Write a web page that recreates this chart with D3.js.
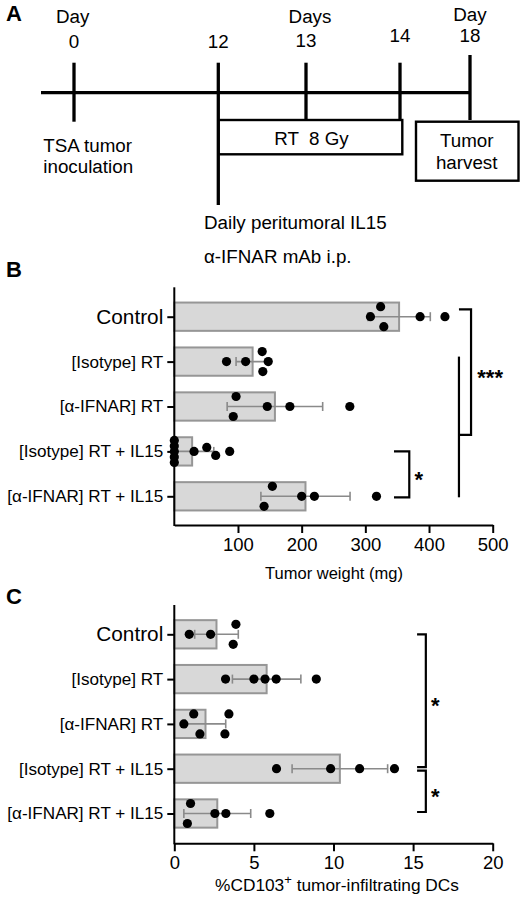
<!DOCTYPE html>
<html>
<head>
<meta charset="utf-8">
<script src="https://cdn.jsdelivr.net/npm/d3@7/dist/d3.min.js"></script>
<style>
body { margin: 0; background: #fff; }
text { font-family: Arial, "Liberation Sans", sans-serif; fill: #000; }
</style>
</head>
<body>
<svg id="fig" width="520" height="897"></svg>
<script>
// ---- panel A: treatment schedule ----
var days = [0, 12, 13, 14, 18];
var dayHeads = ["Day", "", "Days", "", "Day"];

// ---- panels B and C ----
var groups = ["Control", "[Isotype] RT", "[α-IFNAR] RT", "[Isotype] RT + IL15", "[α-IFNAR] RT + IL15"];

// Tumor weight (mg)
var weightMean = [353, 123, 158, 28, 206];
var weightSD = [49, 26, 75, 34, 70];
var weightPoints = [
    [308, 324, 329, 386, 425],
    [82, 112, 138, 139, 147.5],
    [92.6, 97, 146, 181.5, 275.6],
    [0, 0, 0, 0, 0, 31, 51, 65, 87],
    [141, 154, 200, 220, 317.5]
];
var weightTicks = [100, 200, 300, 400, 500];

// %CD103+ tumor-infiltrating DCs
var dcMean = [2.65, 5.8, 1.96, 10.4, 2.7];
var dcSD = [1.37, 2.15, 1.27, 3.0, 2.1];
var dcPoints = [
    [0.94, 2.28, 3.7, 3.87],
    [3.22, 5.0, 5.7, 6.4, 8.92],
    [0.6, 1.22, 1.61, 3.18, 3.43],
    [6.42, 9.82, 11.64, 13.83],
    [0.82, 1.02, 2.55, 3.24, 6.0]
];
var dcTicks = [0, 5, 10, 15, 20];

var svg = d3.select("#fig");
var fsA = "18.8px";

function panelLetter(t, y) {
    svg.append("text").attr("x", 6).attr("y", y)
        .style("font-size", "22px").style("font-weight", "bold").text(t);
}

// ****************** Panel A ***************************
function drawTimeline() {
    var g = svg.append("g");
    var tx = d3.scaleLinear().domain(days).range([74, 218.3, 306, 400, 470]);

    panelLetter("A", 21);

    // main line
    g.append("line").attr("x1", 41).attr("x2", tx(18)).attr("y1", 92.7).attr("y2", 92.7)
        .attr("stroke", "#000").attr("stroke-width", 3.3);

    // RT box
    g.append("rect").attr("x", tx(12)).attr("y", 120)
        .attr("width", 402.3 - tx(12)).attr("height", 34.3)
        .attr("fill", "none").attr("stroke", "#000").attr("stroke-width", 2.4);
    g.append("text").attr("x", 311.5).attr("y", 145).attr("text-anchor", "middle")
        .style("font-size", fsA).attr("xml:space", "preserve").text("RT  8 Gy");

    // harvest box
    g.append("rect").attr("x", 416).attr("y", 121.7).attr("width", 102.5).attr("height", 59)
        .attr("fill", "none").attr("stroke", "#000").attr("stroke-width", 2.4);
    g.append("text").attr("x", 466.7).attr("y", 146.7).attr("text-anchor", "middle")
        .style("font-size", fsA).text("Tumor");
    g.append("text").attr("x", 466.7).attr("y", 168.5).attr("text-anchor", "middle")
        .style("font-size", fsA).text("harvest");

    // day ticks
    g.selectAll("line.day").data(days).enter().append("line")
        .attr("class", "day")
        .attr("x1", function(d) { return tx(d); })
        .attr("x2", function(d) { return tx(d); })
        .attr("y1", function(d) { return d === 18 ? 55 : 62.7; })
        .attr("y2", function(d) { return d === 12 ? 205 : (d === 0 ? 121.7 : 120); })
        .attr("stroke", "#000").attr("stroke-width", 3.3);

    // day numbers and headings
    g.selectAll("text.num").data(days).enter().append("text")
        .attr("class", "num")
        .attr("x", function(d) { return tx(d); })
        .attr("y", function(d) { return d >= 14 ? 42 : (d === 13 ? 46.5 : 47.5); })
        .attr("text-anchor", "middle").style("font-size", fsA)
        .text(function(d) { return d; });
    g.selectAll("text.head").data(days).enter().append("text")
        .attr("class", "head")
        .attr("x", function(d, i) { return tx(d) + (i === 2 ? 4 : (i === 0 ? -1.3 : 0)); })
        .attr("y", function(d) { return d === 18 ? 21 : 22.5; })
        .attr("text-anchor", "middle").style("font-size", fsA)
        .text(function(d, i) { return dayHeads[i]; });

    g.append("text").attr("x", 43.3).attr("y", 151.7).style("font-size", fsA).text("TSA tumor");
    g.append("text").attr("x", 43.3).attr("y", 173.3).style("font-size", fsA).text("inoculation");
    g.append("text").attr("x", 204).attr("y", 229).style("font-size", fsA).text("Daily peritumoral IL15");
    g.append("text").attr("x", 204).attr("y", 263.3).style("font-size", fsA).text("α-IFNAR mAb i.p.");
}

// rows for the scatter dots, GraphPad-like: close values get split up/down
function swarmRows(values, px, minGap) {
    var idx = values.map(function(v, i) { return i; })
        .sort(function(a, b) { return values[a] - values[b]; });
    var rows = values.map(function() { return 0; });
    var clusters = [], cur = [idx[0]];
    for (var i = 1; i < idx.length; i++) {
        if (px(values[idx[i]]) - px(values[cur[cur.length - 1]]) < minGap) cur.push(idx[i]);
        else { clusters.push(cur); cur = [idx[i]]; }
    }
    clusters.push(cur);
    clusters.forEach(function(c) {
        if (c.length === 2) {
            // pairs that barely touch only need a small nudge
            var dx = px(values[c[1]]) - px(values[c[0]]);
            var r = dx > 8.5 ? 0.4 : 1;
            rows[c[0]] = dx > 8.5 ? -r : r; rows[c[1]] = dx > 8.5 ? r : -r;
        } else if (c.length === 3) {
            var g1 = px(values[c[1]]) - px(values[c[0]]);
            var g2 = px(values[c[2]]) - px(values[c[1]]);
            var mid = g1 >= g2 ? 0 : 2;
            var others = [0, 1, 2].filter(function(k) { return k !== mid; });
            rows[c[mid]] = 0; rows[c[others[0]]] = -1; rows[c[others[1]]] = 1;
        } else if (c.length > 3) {
            c.forEach(function(k, j) { rows[k] = 1.1 * (-1 + 2 * j / (c.length - 1)); });
        }
    });
    return rows;
}

// ****************** Panels B / C ***************************
function drawBars(o) {
    var g = svg.append("g");
    var x = d3.scaleLinear().domain(o.domain).range([174.3, 492.7]);
    var y = d3.scalePoint().domain(groups).range(o.yRange);
    var barH = 28.3, rowGap = 10;

    panelLetter(o.letter, o.letterY);

    // bars
    g.selectAll("rect.bar").data(groups).enter().append("rect")
        .attr("class", "bar")
        .attr("x", x(0))
        .attr("y", function(d) { return y(d) - barH / 2; })
        .attr("width", function(d, i) { return x(o.mean[i]) - x(0); })
        .attr("height", barH)
        .attr("fill", "#d8d8d8").attr("stroke", "#969696").attr("stroke-width", 2);

    // error bars (SD)
    groups.forEach(function(name, i) {
        var lo = o.mean[i] - o.sd[i], hi = o.mean[i] + o.sd[i];
        var cy = y(name);
        var eg = g.append("g").attr("stroke", "#8a8a8a").attr("stroke-width", 1.6);
        eg.append("line").attr("x1", x(Math.max(lo, 0))).attr("x2", x(hi))
            .attr("y1", cy).attr("y2", cy);
        eg.append("line").attr("x1", x(hi)).attr("x2", x(hi))
            .attr("y1", cy - 4.5).attr("y2", cy + 4.5);
        if (lo > 0) {
            eg.append("line").attr("x1", x(lo)).attr("x2", x(lo))
                .attr("y1", cy - 4.5).attr("y2", cy + 4.5);
        }
    });

    // axes
    var xAxis = g.append("g").attr("transform", "translate(0," + o.axisY + ")")
        .call(d3.axisBottom(x).tickValues(o.ticks).tickSize(8).tickPadding(5).tickSizeOuter(0));
    xAxis.selectAll("path, line").attr("stroke", "#000").attr("stroke-width", 2);
    xAxis.selectAll("text").style("font-size", "18.5px").attr("fill", "#000");

    g.append("line").attr("x1", x(0)).attr("x2", x(0))
        .attr("y1", o.axisTop).attr("y2", o.axisY + 1)
        .attr("stroke", "#000").attr("stroke-width", 2);
    var yAxis = g.append("g").attr("transform", "translate(" + x(0) + ",0)")
        .call(d3.axisLeft(y).tickSize(7).tickPadding(4));
    yAxis.select(".domain").remove();
    yAxis.selectAll("line").attr("stroke", "#000").attr("stroke-width", 2);
    yAxis.selectAll("text").attr("fill", "#000")
        .style("font-size", function(d) { return d === "Control" ? "20.8px" : "17.1px"; });

    // dots
    o.points.forEach(function(vals, i) {
        var rows = swarmRows(vals, x, 10.5);
        g.selectAll(null).data(vals).enter().append("circle")
            .attr("cx", function(d) { return x(d); })
            .attr("cy", function(d, j) { return y(groups[i]) + rows[j] * rowGap; })
            .attr("r", 4.6).attr("fill", "#000");
    });

    // axis title
    var t = g.append("text").attr("x", o.titleX).attr("y", o.titleY)
        .attr("text-anchor", "middle").style("font-size", o.titleSize);
    o.title(t);

    // significance brackets
    o.brackets.forEach(function(b) {
        g.append("path").attr("d", b.path(x, y)).attr("fill", "none")
            .attr("stroke", "#000").attr("stroke-width", 2.2);
        if (b.label) {
            g.append("text").attr("x", x(b.lx)).attr("y", b.ly(y) + 12.5)
                .attr("text-anchor", "middle").style("font-size", "22px")
                .style("font-weight", "bold").text(b.label);
        }
    });
}

drawTimeline();

drawBars({
    letter: "B", letterY: 277,
    domain: [0, 500], ticks: weightTicks,
    mean: weightMean, sd: weightSD, points: weightPoints,
    yRange: [316.7, 496.3], axisTop: 287.3, axisY: 525,
    titleX: 334, titleY: 579, titleSize: "16.5px",
    title: function(t) { t.text("Tumor weight (mg)"); },
    brackets: [
        { path: function(x, y) {
            return "M" + x(447) + "," + (y(groups[1]) - 5) + "V" + (y(groups[4]) + 1);
        } },
        { path: function(x, y) {
            var b = (y(groups[2]) + y(groups[3])) / 2 + 6;
            return "M" + x(447) + "," + (y(groups[0]) - 7.4) + "H" + x(466) + "V" + b + "H" + x(447);
          },
          label: "***", lx: 496,
          ly: function(y) { return ((y(groups[0]) - 7.4) + (y(groups[2]) + y(groups[3])) / 2 + 6) / 2; } },
        { path: function(x, y) {
            return "M" + x(345) + "," + y(groups[3]) + "H" + x(369) + "V" + (y(groups[4]) + 1) + "H" + x(345);
          },
          label: "*", lx: 384,
          ly: function(y) { return (y(groups[3]) + y(groups[4]) + 1) / 2; } }
    ]
});

drawBars({
    letter: "C", letterY: 604,
    domain: [0, 20], ticks: dcTicks,
    mean: dcMean, sd: dcSD, points: dcPoints,
    yRange: [634.3, 813.5], axisTop: 605, axisY: 843.3,
    titleX: 337, titleY: 891, titleSize: "17.3px",
    title: function(t) {
        t.append("tspan").text("%CD103");
        t.append("tspan").attr("dy", -7).style("font-size", "13px").text("+");
        t.append("tspan").attr("dy", 7).text(" tumor-infiltrating DCs");
    },
    brackets: [
        { path: function(x, y) {
            return "M" + x(15.25) + "," + y(groups[0]) + "H" + x(15.8) + "V" + (y(groups[3]) - 1.5) + "H" + x(15.25);
          },
          label: "*", lx: 16.4,
          ly: function(y) { return (y(groups[0]) + y(groups[3]) - 1.5) / 2; } },
        { path: function(x, y) {
            return "M" + x(15.25) + "," + (y(groups[3]) + 2) + "H" + x(15.8) + "V" + (y(groups[4]) - 1.5) + "H" + x(15.25);
          },
          label: "*", lx: 16.4,
          ly: function(y) { return (y(groups[3]) + 2 + y(groups[4]) - 1.5) / 2; } }
    ]
});
</script>
</body>
</html>
